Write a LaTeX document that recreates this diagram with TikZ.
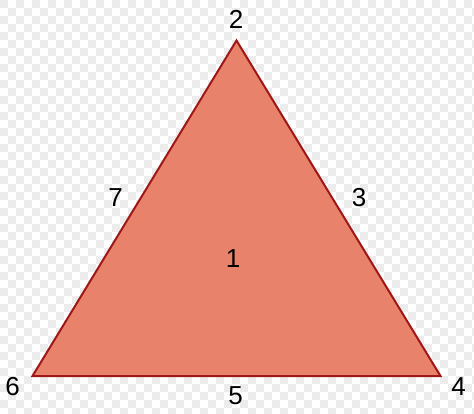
\documentclass[tikz,border=0pt]{standalone}
\usepackage{fontspec}
\setmainfont{Liberation Sans}
\usepackage{tikz}
\usetikzlibrary{positioning}

\definecolor{checkgray}{RGB}{236,236,236}
\definecolor{trifill}{RGB}{233,130,106}
\definecolor{triedge}{RGB}{158,24,24}

\begin{document}
\begin{tikzpicture}[x=1pt, y=-1pt, tri/.style={fill=trifill, draw=triedge, line width=2pt, line join=miter}, num/.style={inner sep=0pt, font=\fontsize{26}{26}\selectfont}]
\useasboundingbox (0,0) rectangle (474,414);
\fill[white] (0,0) rectangle (474,414);
% transparency grid behind the picture
\foreach \i in {0,...,59}{
  \foreach \j in {0,...,51}{
    \pgfmathparse{int(mod(\i+\j,2))}
    \ifnum\pgfmathresult=0
      \fill[checkgray] (\i*8,\j*8) rectangle ++(8,8);
    \fi
  }
}
\coordinate (top) at (236.5, 40.5);
\coordinate (right) at (440.5, 376);
\coordinate (left) at (32.5, 376);
\draw[tri] (top) -- (right) -- (left) -- cycle;
\draw (233, 259)node[num](1){1};
\draw (236, 19)node[num](2){2};
\draw (359, 197.5)node[num](3){3};
\draw (458.5, 387)node[num](4){4};
\draw (235.5, 396)node[num](5){5};
\draw (12.5, 386.5)node[num](6){6};
\draw (115.5, 197.5)node[num](7){7};
\end{tikzpicture}
\end{document}
